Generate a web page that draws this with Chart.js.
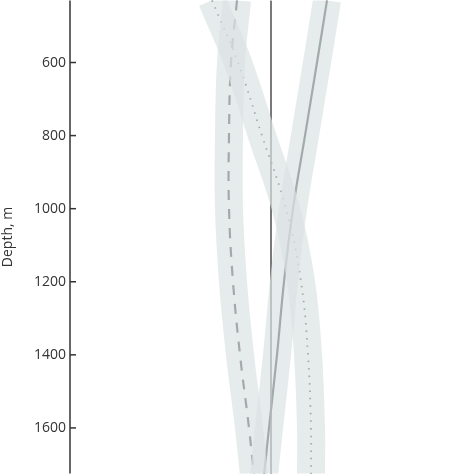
<!DOCTYPE html>
<html><head><meta charset="utf-8">
<script src="https://cdn.jsdelivr.net/npm/chart.js@4"></script>
<style>html,body{margin:0;padding:0;background:#fff;overflow:hidden}#w{position:absolute;left:0;top:-12px;width:474px;height:498px}</style>
</head><body><div id="w"><canvas id="c"></canvas></div>
<script>
const depths = [430, 600, 800, 1000, 1200, 1400, 1600, 1730];
const solidX = [327, 317, 305, 293, 284, 277, 269, 264];
const dashedX = [237, 231, 229, 229, 233, 240, 249, 254];
const dottedX = [212, 238, 262, 286, 301, 308, 311, 311];
const refX = [271, 271];
const refDepth = [430, 1730];
const yTicks = [600, 800, 1000, 1200, 1400, 1600];

const pts = xs => xs.map((x, i) => ({x, y: depths[i]}));
const band = 'rgba(220,226,228,0.7)';
const bandSets = [solidX, dashedX, dottedX].map(xs => ({data: pts(xs), borderColor: band, borderWidth: 28, pointRadius: 0, showLine: true, tension: 0.4}));
const tickPlugin = {id: 'inTicks', afterDraw(ch) {
  const c = ch.ctx, y = ch.scales.y, a = ch.chartArea;
  c.save(); c.strokeStyle = '#333'; c.lineWidth = 1.5;
  c.beginPath(); c.moveTo(a.left, a.top); c.lineTo(a.left, a.bottom); c.stroke();
  yTicks.forEach(t => { const p = y.getPixelForValue(t); c.beginPath(); c.moveTo(a.left, p); c.lineTo(a.left + 6, p); c.stroke(); });
  c.restore();
}};
new Chart(document.getElementById('c'), {
  type: 'scatter',
  data: {datasets: [
    ...bandSets,
    {data: refX.map((x, i) => ({x, y: refDepth[i]})), borderColor: '#555', borderWidth: 0.8, pointRadius: 0, showLine: true},
    {data: pts(solidX), borderColor: '#22272b', borderWidth: 2.2, pointRadius: 0, showLine: true, tension: 0.4},
    {data: pts(dashedX), borderColor: '#22272b', borderWidth: 2.2, borderDash: [10, 9], pointRadius: 0, showLine: true, tension: 0.4},
    {data: pts(dottedX), borderColor: '#22272b', borderWidth: 1.8, borderDash: [1.5, 6], pointRadius: 0, showLine: true, tension: 0.4}
  ]},
  options: {
    responsive: true, maintainAspectRatio: false, animation: false,
    layout: {padding: 0},
    plugins: {legend: {display: false}, tooltip: {enabled: false}},
    scales: {
      x: {display: false, min: 70, max: 474},
      y: {reverse: true, min: 430, max: 1725,
        afterFit(s) { s.width = 70; },
        afterBuildTicks(s) { s.ticks = yTicks.map(v => ({value: v})); },
        grid: {display: false, drawTicks: false}, border: {display: false},
        ticks: {color: '#333', font: {family: 'Open Sans', size: 14}, padding: 4, callback: v => String(v)},
        title: {display: true, text: 'Depth, m', color: '#333', font: {family: 'Open Sans', size: 14}, padding: 0}}
    }
  },
  plugins: [tickPlugin]
});
</script></body></html>
